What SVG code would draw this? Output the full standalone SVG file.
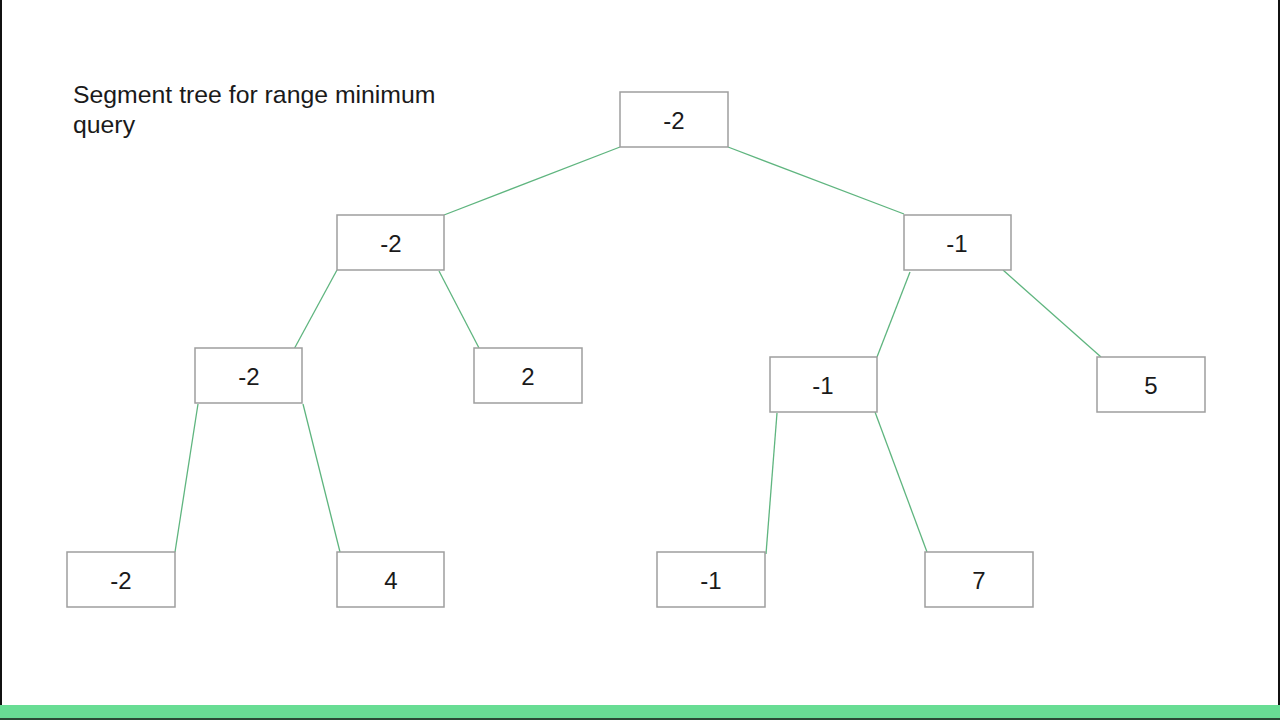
<svg xmlns="http://www.w3.org/2000/svg" width="1280" height="720" viewBox="0 0 1280 720">
<style>
.box{fill:#ffffff;stroke:#9e9e9e;stroke-width:1.5}
.lbl{font-family:"Liberation Sans",Arial,sans-serif;font-size:24px;fill:#1a1a1a;text-anchor:middle;dominant-baseline:central}
.title{font-family:"Liberation Sans",Arial,sans-serif;font-size:24.8px;fill:#1a1a1a}
.edge{stroke:#5fb57f;stroke-width:1.3;fill:none}
</style>
<rect x="0" y="0" width="1280" height="720" fill="#ffffff"/>
<rect x="0" y="0" width="2" height="706" fill="#111"/>
<rect x="1278" y="0" width="2" height="706" fill="#111"/>
<rect x="0" y="705" width="1280" height="13" fill="#68dd94"/>
<rect x="0" y="718" width="1280" height="2" fill="#2a4a35"/>
<text class="title" x="73" y="103">Segment tree for range minimum</text>
<text class="title" x="73" y="133">query</text>
<g id="connectors">
<line class="edge" x1="620" y1="147" x2="444" y2="215"/>
<line class="edge" x1="728" y1="147" x2="904" y2="214"/>
<line class="edge" x1="337" y1="270" x2="293" y2="351"/>
<line class="edge" x1="439" y1="271" x2="479" y2="348"/>
<line class="edge" x1="198" y1="404" x2="175" y2="552"/>
<line class="edge" x1="303" y1="404" x2="340" y2="552"/>
<line class="edge" x1="910" y1="272" x2="877" y2="357"/>
<line class="edge" x1="1003" y1="270" x2="1101" y2="357"/>
<line class="edge" x1="777" y1="413" x2="766" y2="554"/>
<line class="edge" x1="875" y1="412" x2="927" y2="552"/>
</g>
<g id="n_root"><rect class="box" x="620" y="92" width="108" height="55"/><text class="lbl" x="674" y="120">-2</text></g>
<g id="n_l1a"><rect class="box" x="337" y="215" width="107" height="55"/><text class="lbl" x="391" y="243">-2</text></g>
<g id="n_l1b"><rect class="box" x="904" y="215" width="107" height="55"/><text class="lbl" x="957" y="243">-1</text></g>
<g id="n_l2a"><rect class="box" x="195" y="348" width="107" height="55"/><text class="lbl" x="249" y="376">-2</text></g>
<g id="n_l2b"><rect class="box" x="474" y="348" width="108" height="55"/><text class="lbl" x="528" y="376">2</text></g>
<g id="n_l2c"><rect class="box" x="770" y="357" width="107" height="55"/><text class="lbl" x="823" y="385">-1</text></g>
<g id="n_l2d"><rect class="box" x="1097" y="357" width="108" height="55"/><text class="lbl" x="1151" y="385">5</text></g>
<g id="n_l3a"><rect class="box" x="67" y="552" width="108" height="55"/><text class="lbl" x="121" y="580">-2</text></g>
<g id="n_l3b"><rect class="box" x="337" y="552" width="107" height="55"/><text class="lbl" x="391" y="580">4</text></g>
<g id="n_l3c"><rect class="box" x="657" y="552" width="108" height="55"/><text class="lbl" x="711" y="580">-1</text></g>
<g id="n_l3d"><rect class="box" x="925" y="552" width="108" height="55"/><text class="lbl" x="979" y="580">7</text></g>
</svg>
